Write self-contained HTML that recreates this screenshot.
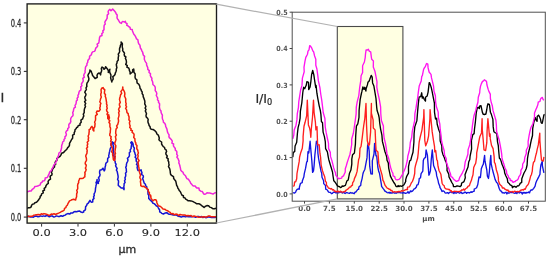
<!DOCTYPE html>
<html><head><meta charset="utf-8"><title>plot</title><style>
html,body{margin:0;padding:0;background:#fff;width:550px;height:257px;overflow:hidden}
svg{display:block}
text{font-family:"DejaVu Sans","Liberation Sans",sans-serif;fill:#333}
.rt{font-size:7.1px;font-weight:bold;fill:#555}
.ru{font-size:7px;font-weight:bold;fill:#4a4a4a}
.ri{font-size:12.6px;fill:#2a2a2a;stroke:#2a2a2a;stroke-width:0.22px}
.ly{font-size:10.4px;fill:#2e2e2e;stroke:#2e2e2e;stroke-width:0.3px}
.lx{font-size:8.4px;fill:#262626;stroke:#262626;stroke-width:0.1px}
.lu{font-size:11px;fill:#2a2a2a;stroke:#2a2a2a;stroke-width:0.3px}
.li{font-size:11.4px;fill:#2a2a2a;stroke:#2a2a2a;stroke-width:0.45px}
</style></head><body>
<svg width="550" height="257" viewBox="0 0 550 257">
<defs><clipPath id="cl"><rect x="27.1" y="3.9" width="189.4" height="219.2"/></clipPath><clipPath id="cr"><rect x="292.2" y="12.2" width="253.1" height="189.0"/></clipPath></defs>
<rect x="292.2" y="12.2" width="253.1" height="189.0" fill="#fff" stroke="none"/>
<rect x="337.3" y="26.5" width="65.6" height="172.4" fill="#ffffe2" stroke="#4a4a4a" stroke-width="1.1"/>
<g clip-path="url(#cr)" fill="none" stroke-width="1.35" stroke-linejoin="round">
<path d="M292.8 192.7 L293.7 192.8 L294.7 193.0 L295.7 192.1 L296.1 190.8 L297.1 189.4 L298.3 189.0 L299.3 189.2 L299.4 187.2 L300.5 183.3 L302.2 182.7 L302.3 181.1 L303.8 177.1 L304.3 173.6 L305.6 168.2 L306.7 161.8 L307.3 161.6 L308.0 151.6 L308.8 153.0 L310.1 141.2 L310.6 147.2 L311.8 160.4 L312.6 172.4 L313.5 170.9 L314.1 165.6 L314.9 154.8 L316.4 141.2 L317.6 144.0 L317.9 153.1 L318.5 158.0 L319.4 162.9 L321.0 171.2 L321.7 173.1 L322.0 177.3 L323.6 180.7 L323.7 183.6 L325.5 185.5 L325.7 189.1 L327.4 190.0 L327.8 190.9 L328.6 192.2 L329.7 192.3 L330.5 192.4 L331.4 193.7 L332.6 193.3 L333.2 192.2 L334.2 192.4 L335.3 192.1 L336.0 193.1 L336.9 192.3 L337.8 192.8 L338.8 192.9 L339.5 191.9 L340.5 192.2 L341.4 191.8 L342.3 193.1 L343.3 192.2 L344.3 192.9 L345.1 193.5 L346.0 192.9 L346.8 192.5 L347.7 192.9 L348.6 193.2 L349.6 193.4 L350.3 192.5 L351.4 193.0 L352.2 192.8 L352.9 193.1 L354.2 193.7 L355.1 192.2 L355.8 192.0 L356.7 190.8 L357.8 189.4 L358.6 189.4 L358.9 187.0 L360.8 185.2 L360.9 183.1 L362.1 178.6 L362.9 174.0 L363.4 172.3 L364.9 169.2 L365.8 164.1 L367.0 157.9 L367.6 145.8 L368.3 143.4 L369.2 151.4 L369.7 166.2 L370.9 173.9 L372.4 174.0 L372.3 160.8 L374.0 154.0 L374.6 143.4 L376.0 155.8 L376.7 156.0 L377.8 167.0 L378.8 171.8 L379.5 173.3 L380.4 178.7 L381.3 183.9 L381.6 186.4 L383.2 188.7 L384.0 189.7 L384.9 191.2 L385.5 191.2 L386.6 192.2 L387.3 192.6 L388.2 192.9 L389.1 192.3 L390.0 193.3 L390.8 192.5 L391.9 193.3 L392.7 192.6 L393.6 192.6 L394.5 193.1 L395.4 192.8 L396.3 193.2 L397.2 192.7 L398.1 192.4 L399.0 192.6 L399.9 192.5 L400.7 192.8 L401.7 192.9 L402.6 193.0 L403.6 192.7 L404.4 192.9 L405.4 193.4 L406.2 193.1 L407.1 192.9 L408.0 191.7 L408.9 193.2 L409.7 192.4 L410.5 190.9 L411.5 191.6 L412.7 190.9 L413.1 190.4 L414.0 189.0 L414.9 188.7 L416.4 187.0 L416.8 185.2 L418.1 184.6 L419.0 181.2 L419.2 178.5 L420.5 177.9 L421.1 173.7 L422.8 171.2 L423.3 160.6 L424.1 158.5 L425.5 157.4 L426.1 149.9 L427.4 155.1 L428.3 167.4 L428.9 175.2 L429.4 174.2 L430.4 170.9 L431.3 159.0 L432.3 149.9 L433.0 158.6 L433.6 165.5 L434.9 168.7 L436.2 171.9 L436.7 175.9 L438.1 180.6 L438.5 183.0 L439.9 186.6 L439.9 187.4 L441.5 190.1 L442.0 191.5 L443.2 190.9 L444.3 191.5 L445.0 192.8 L445.9 193.1 L446.8 192.8 L447.5 192.6 L448.5 193.5 L449.2 192.8 L450.2 192.1 L451.2 191.8 L452.1 192.9 L453.2 192.0 L453.8 193.6 L454.8 192.3 L455.7 193.1 L456.6 193.1 L457.4 192.3 L458.4 192.2 L459.2 193.2 L460.2 192.8 L461.2 192.2 L462.0 193.5 L463.0 193.2 L463.8 193.0 L464.5 192.2 L465.6 192.2 L466.5 193.4 L467.3 192.6 L468.3 192.5 L469.3 193.0 L470.2 192.4 L471.1 191.7 L471.8 192.4 L472.8 191.7 L474.2 191.2 L474.2 189.2 L475.5 188.5 L476.6 187.8 L477.8 184.5 L478.2 181.9 L479.0 177.0 L480.4 177.5 L480.9 173.0 L481.3 168.8 L482.6 165.4 L483.3 164.4 L484.6 155.4 L485.0 161.2 L486.8 170.0 L487.4 176.2 L488.5 178.5 L489.4 171.4 L490.2 161.1 L490.8 155.4 L491.2 163.8 L492.2 168.4 L493.1 172.0 L494.3 176.4 L495.1 179.4 L496.6 182.5 L497.6 183.3 L498.6 186.5 L499.4 189.0 L499.8 189.7 L500.3 190.7 L501.5 191.4 L502.3 192.8 L503.4 192.7 L504.2 193.2 L505.1 192.5 L506.1 192.3 L506.9 194.0 L507.8 192.5 L508.8 193.2 L509.7 192.9 L510.6 192.1 L511.6 192.6 L512.4 192.6 L513.3 192.7 L514.1 193.1 L515.1 193.3 L516.0 192.3 L516.9 193.6 L517.5 192.2 L518.6 192.5 L519.6 193.0 L520.3 192.2 L521.5 192.4 L522.2 194.1 L523.1 192.4 L524.1 193.1 L525.0 192.4 L525.9 193.3 L526.6 192.5 L527.8 192.7 L528.6 192.0 L529.6 192.9 L530.0 191.4 L531.1 189.8 L532.1 190.1 L532.7 189.5 L533.7 188.4 L535.0 186.4 L535.9 182.7 L536.9 180.3 L537.3 179.6 L538.6 177.1 L540.0 174.2 L540.1 171.5 L540.9 164.9 L542.3 161.2 L542.4 165.9 L543.9 172.9" stroke="#1414e0"/>
<path d="M292.8 186.2 L294.2 185.8 L294.6 181.9 L295.7 181.8 L296.7 178.8 L297.0 173.5 L297.7 169.7 L299.2 161.4 L299.6 157.0 L300.8 152.4 L302.3 148.3 L303.1 140.9 L303.1 136.6 L304.0 126.3 L305.1 122.3 L306.7 115.6 L307.3 100.1 L308.4 124.9 L309.5 127.7 L310.3 131.7 L310.8 137.3 L311.3 129.3 L312.5 117.3 L313.5 100.1 L314.1 112.5 L315.4 122.2 L315.9 129.9 L317.0 126.7 L317.6 144.9 L319.2 144.8 L320.0 153.7 L320.6 157.4 L321.1 164.8 L322.4 170.4 L323.4 173.4 L324.6 176.4 L325.5 181.5 L326.4 182.2 L326.5 185.4 L327.5 186.2 L328.4 188.0 L329.7 188.3 L330.5 189.0 L331.6 188.5 L332.4 190.0 L333.5 189.7 L334.3 190.9 L335.2 191.6 L335.9 191.2 L337.0 192.0 L337.8 190.9 L338.7 191.8 L339.6 191.8 L340.6 191.2 L341.4 192.0 L342.5 192.2 L343.3 192.0 L344.1 191.5 L345.2 191.6 L346.0 190.2 L346.7 189.8 L347.7 189.1 L348.7 188.3 L349.4 187.2 L350.6 187.1 L351.3 185.9 L352.5 185.1 L352.6 182.8 L353.9 180.9 L354.4 178.6 L356.0 175.1 L357.1 171.4 L357.7 166.9 L358.6 159.8 L359.5 157.1 L360.0 148.4 L361.1 146.2 L362.2 137.9 L363.2 129.5 L363.8 125.0 L364.8 118.6 L366.0 103.4 L366.5 124.3 L367.3 140.7 L368.6 145.5 L369.5 144.4 L370.6 131.9 L371.4 103.4 L371.4 113.2 L373.1 119.8 L373.3 128.0 L375.1 129.9 L375.8 145.9 L376.1 150.3 L377.9 152.0 L378.2 156.1 L378.8 163.4 L379.6 166.2 L380.8 170.8 L382.1 175.1 L383.0 180.6 L383.6 181.2 L385.1 185.4 L385.8 186.2 L386.1 186.8 L387.2 188.1 L388.4 188.6 L389.1 189.3 L390.1 189.2 L390.7 190.5 L392.0 190.4 L392.6 192.0 L393.6 191.8 L394.6 191.7 L395.4 191.8 L396.3 192.1 L397.2 191.6 L398.1 192.0 L399.0 191.2 L399.9 191.9 L400.8 191.5 L401.5 190.6 L402.7 191.1 L403.7 190.7 L404.4 190.3 L405.3 189.9 L406.3 189.5 L407.5 189.6 L407.5 187.1 L408.9 186.9 L409.4 186.8 L410.5 184.8 L411.3 182.9 L412.5 181.3 L413.6 178.3 L414.7 173.5 L414.9 168.3 L415.5 165.5 L417.6 158.3 L418.2 153.5 L418.9 144.8 L419.2 141.8 L420.1 137.5 L422.0 129.8 L422.4 126.5 L423.7 117.1 L423.9 109.6 L424.8 140.5 L425.7 145.8 L426.6 143.6 L427.5 141.0 L428.6 135.8 L429.9 118.7 L430.1 109.6 L431.1 120.6 L432.2 131.9 L433.2 138.6 L434.5 146.4 L434.8 151.9 L435.7 150.5 L436.8 159.8 L437.4 160.6 L438.0 166.2 L439.0 170.5 L440.9 174.3 L441.5 178.6 L442.1 183.2 L442.9 184.8 L444.2 185.7 L444.5 187.5 L445.8 188.9 L446.6 189.0 L447.9 189.1 L448.6 189.6 L449.6 189.4 L450.2 190.8 L451.2 190.6 L451.8 192.1 L453.0 191.7 L453.9 191.5 L454.8 191.1 L455.7 191.6 L456.7 191.3 L457.4 191.6 L458.4 191.5 L459.3 191.9 L460.2 191.0 L461.2 190.6 L461.9 189.8 L462.9 190.0 L463.8 189.0 L464.6 190.2 L465.7 188.7 L466.3 188.3 L467.3 187.6 L467.9 186.4 L469.4 185.7 L469.9 184.1 L471.5 180.1 L471.9 178.3 L473.0 174.8 L473.7 167.6 L475.0 164.6 L475.7 163.3 L476.6 157.2 L476.7 152.9 L477.8 147.4 L479.4 138.7 L479.9 136.5 L481.5 132.9 L482.1 118.7 L482.3 129.7 L483.3 141.0 L484.0 149.9 L485.6 150.6 L486.8 142.7 L487.1 130.6 L487.9 118.7 L489.5 136.3 L490.1 134.0 L490.3 138.9 L491.5 145.4 L493.1 148.6 L494.1 156.3 L494.4 162.3 L495.2 163.7 L496.4 170.0 L497.7 174.1 L498.3 177.4 L498.5 180.9 L499.6 184.0 L500.4 185.0 L501.8 186.3 L502.4 188.0 L503.5 187.8 L504.4 188.3 L504.8 189.1 L506.3 189.9 L507.0 190.3 L508.0 189.9 L508.6 191.7 L509.7 191.3 L510.6 191.8 L511.6 191.7 L512.4 191.4 L513.4 192.4 L514.3 191.2 L515.2 191.3 L516.1 191.6 L516.9 191.9 L517.8 191.4 L518.8 191.9 L519.7 191.2 L520.6 190.1 L521.4 190.2 L522.3 189.7 L523.4 190.1 L524.3 189.0 L525.1 189.4 L526.1 187.2 L526.6 186.0 L527.3 185.6 L528.5 183.9 L529.6 180.3 L530.7 175.9 L531.3 175.0 L532.3 171.1 L532.6 166.9 L533.5 162.2 L534.5 161.4 L535.6 156.1 L536.4 153.3 L537.2 149.4 L538.3 144.9 L539.8 133.2 L539.9 140.8 L540.7 151.6 L541.5 160.2 L543.2 161.1 L543.9 156.8" stroke="#ff1f1f"/>
<path d="M292.8 157.1 L293.3 152.3 L294.7 151.6 L295.1 145.9 L296.7 142.3 L297.4 133.5 L298.1 127.6 L299.2 123.4 L300.1 118.2 L300.4 111.1 L301.8 103.0 L302.8 92.5 L303.6 87.3 L304.7 88.7 L305.6 86.5 L306.2 85.4 L306.9 81.6 L308.5 82.3 L308.7 89.6 L310.1 86.9 L310.9 81.3 L311.6 74.7 L312.7 70.5 L313.8 74.7 L314.4 78.8 L315.7 87.5 L316.1 85.5 L316.9 93.2 L317.8 98.3 L319.2 105.8 L320.3 110.4 L320.9 114.4 L321.4 121.5 L322.5 122.8 L323.1 132.1 L324.4 136.6 L325.3 141.7 L325.6 148.6 L327.4 151.8 L328.2 156.6 L328.7 159.2 L329.5 162.0 L330.7 166.0 L331.4 168.2 L332.5 172.0 L333.1 176.5 L333.8 180.8 L334.8 181.8 L335.9 183.3 L336.9 185.0 L337.5 185.8 L338.7 186.5 L339.6 186.7 L340.4 187.5 L341.5 187.2 L342.2 185.9 L343.2 186.4 L344.2 185.9 L345.4 185.4 L346.0 183.6 L346.8 181.1 L348.2 179.9 L348.6 178.0 L349.4 173.6 L350.9 170.1 L351.8 164.1 L351.8 159.2 L352.6 154.7 L354.4 153.0 L355.4 144.2 L355.7 135.9 L356.4 126.2 L357.8 123.8 L359.0 117.4 L359.1 110.4 L360.2 99.3 L361.4 93.5 L361.8 91.9 L362.9 86.9 L364.0 89.4 L364.8 87.3 L365.9 91.0 L366.1 88.7 L367.4 84.9 L368.0 82.1 L368.9 81.5 L369.8 79.3 L371.2 75.4 L372.2 77.2 L372.6 82.9 L373.9 86.1 L375.0 92.7 L376.0 98.6 L376.7 107.3 L377.1 110.5 L378.6 115.0 L379.2 117.9 L379.7 123.0 L380.6 129.1 L381.9 135.2 L382.4 141.4 L383.5 145.7 L384.9 151.5 L386.0 154.6 L386.8 157.4 L387.0 160.3 L388.3 162.9 L388.7 168.1 L389.5 171.8 L390.4 176.1 L391.8 178.9 L393.2 181.4 L393.8 182.5 L394.8 183.7 L395.3 184.8 L396.1 186.6 L397.5 186.6 L398.1 185.5 L398.9 186.6 L399.9 185.9 L400.8 186.0 L401.7 186.4 L402.5 185.8 L403.8 185.0 L404.6 183.6 L405.7 181.5 L405.7 179.6 L406.7 176.3 L408.5 173.1 L408.5 166.6 L409.7 160.9 L410.8 160.2 L411.6 156.9 L413.0 152.3 L413.9 142.2 L414.1 133.7 L414.8 126.9 L416.6 121.5 L416.9 120.4 L417.6 111.6 L418.4 102.9 L419.1 97.0 L420.7 96.6 L421.7 92.8 L422.3 98.1 L423.0 96.7 L424.2 99.3 L425.5 101.1 L425.5 97.3 L427.2 95.9 L428.1 92.1 L429.2 82.6 L429.8 83.1 L430.5 85.1 L431.3 87.7 L432.2 91.9 L433.2 97.2 L434.4 103.0 L434.5 112.1 L435.5 119.0 L436.6 118.2 L437.2 124.3 L438.5 128.9 L440.0 133.0 L440.2 141.1 L441.8 145.7 L441.9 150.9 L442.9 154.4 L444.3 157.6 L445.3 160.6 L446.3 162.4 L447.1 167.2 L447.0 170.4 L448.8 174.2 L449.0 177.0 L450.7 180.1 L451.4 181.6 L452.1 183.0 L453.1 184.5 L453.5 186.5 L454.9 186.6 L455.7 186.6 L456.6 186.0 L457.4 186.0 L458.4 186.1 L459.4 186.3 L460.2 186.6 L461.3 185.5 L461.6 183.0 L462.5 182.6 L464.0 181.6 L465.3 177.7 L465.0 174.7 L466.4 170.9 L468.0 167.1 L468.7 162.0 L469.8 159.5 L470.1 156.1 L471.6 148.9 L471.4 140.6 L472.8 134.6 L474.1 133.6 L474.5 129.0 L475.4 121.8 L476.3 112.5 L477.2 108.1 L478.2 107.3 L479.3 108.5 L479.8 106.0 L481.0 105.7 L481.4 107.6 L482.4 112.4 L483.3 114.4 L484.5 114.5 L485.9 114.0 L486.7 110.0 L487.4 105.7 L488.0 103.8 L489.3 104.4 L489.5 105.2 L490.4 112.2 L491.2 113.9 L492.9 119.4 L493.2 126.9 L493.9 131.7 L495.6 133.0 L496.8 133.5 L497.5 141.8 L498.3 145.6 L498.7 151.0 L499.4 158.3 L500.4 159.1 L501.4 162.1 L502.0 164.2 L502.9 166.3 L504.4 170.4 L504.7 173.1 L505.8 175.8 L507.3 178.7 L507.8 182.3 L509.1 183.4 L509.8 184.4 L510.3 184.9 L512.0 185.8 L512.4 187.7 L513.3 186.7 L514.3 186.3 L515.3 186.7 L516.0 187.3 L516.8 186.5 L517.6 185.8 L518.6 185.9 L519.8 184.4 L520.1 183.3 L521.7 182.4 L521.8 178.7 L523.2 175.0 L524.0 173.0 L525.4 170.5 L526.3 168.5 L527.1 165.0 L527.5 158.4 L528.4 153.0 L529.9 147.1 L530.4 144.3 L531.5 139.2 L532.5 135.5 L532.7 128.7 L533.9 122.0 L535.3 117.7 L536.0 119.9 L537.1 121.3 L537.2 116.5 L538.5 115.1 L539.4 116.6 L540.5 119.2 L541.1 122.4 L542.1 123.4 L542.5 122.2 L543.9 114.8 L544.7 114.5" stroke="#000"/>
<path d="M292.8 138.8 L293.8 135.0 L294.2 129.9 L296.0 125.2 L296.9 119.9 L297.3 113.7 L298.4 107.6 L298.8 101.6 L299.7 95.8 L300.6 90.0 L302.0 85.4 L302.4 78.1 L304.2 71.8 L304.0 67.2 L305.0 61.2 L305.8 57.4 L307.5 54.2 L308.0 51.2 L309.0 49.8 L309.7 45.6 L310.5 46.1 L311.8 48.2 L312.9 51.0 L313.6 51.7 L314.6 56.0 L315.8 59.2 L315.8 65.3 L316.9 69.0 L317.8 75.6 L318.4 80.9 L319.9 87.7 L320.8 94.5 L321.7 99.8 L322.6 107.1 L323.2 112.5 L324.9 118.5 L325.2 126.6 L326.1 132.2 L327.2 137.5 L328.5 143.4 L328.6 148.6 L330.3 152.3 L330.5 156.4 L331.9 160.6 L332.9 164.7 L333.7 167.9 L334.7 171.0 L335.5 172.8 L335.8 175.2 L336.7 176.4 L337.9 177.9 L338.6 178.7 L339.6 178.5 L340.5 178.4 L341.7 178.1 L342.1 176.6 L343.6 175.8 L344.3 174.0 L345.2 172.2 L345.3 168.8 L346.3 165.7 L347.2 162.5 L348.4 158.9 L350.0 154.2 L350.8 149.8 L351.7 144.5 L351.7 139.0 L353.3 133.5 L354.3 127.0 L355.3 120.1 L356.1 114.2 L356.3 107.2 L357.2 101.9 L358.8 95.6 L359.7 87.3 L360.8 80.4 L361.1 75.8 L362.6 72.4 L362.6 65.8 L364.4 62.0 L365.2 57.6 L365.5 54.0 L366.1 49.9 L367.5 50.0 L368.3 49.3 L369.4 51.4 L370.7 51.8 L371.4 57.5 L371.7 59.2 L373.4 60.9 L373.3 66.9 L375.0 71.5 L375.9 76.2 L377.0 81.9 L376.8 87.1 L377.8 92.7 L379.4 99.8 L380.6 106.8 L380.8 113.8 L381.4 120.5 L383.4 126.0 L383.5 132.1 L384.2 138.5 L385.5 143.7 L386.3 148.4 L386.9 153.4 L388.5 157.9 L389.4 161.5 L389.8 164.1 L390.8 168.0 L391.8 171.2 L392.9 173.3 L393.1 175.9 L394.7 176.7 L395.2 178.5 L396.0 179.7 L397.2 179.9 L398.0 179.6 L398.9 179.3 L399.6 178.9 L400.4 177.9 L401.3 176.2 L402.4 174.7 L403.4 172.3 L404.3 170.4 L405.5 167.5 L406.4 164.2 L407.3 160.5 L407.8 156.3 L409.1 151.5 L409.9 147.2 L410.3 142.5 L411.7 137.3 L412.3 131.3 L413.6 125.3 L414.6 121.0 L414.9 113.6 L416.0 108.2 L416.9 101.9 L417.7 97.5 L418.3 92.3 L419.2 86.1 L421.2 81.0 L421.8 76.2 L422.3 75.8 L423.5 69.8 L424.0 68.5 L425.3 66.7 L426.4 63.8 L426.8 63.5 L427.8 64.1 L428.1 67.9 L429.1 72.0 L431.0 74.4 L431.5 77.9 L432.4 81.3 L433.5 85.8 L434.0 91.2 L435.4 95.8 L435.6 101.9 L436.4 106.8 L438.2 112.1 L438.4 117.7 L439.8 123.8 L440.2 129.2 L441.1 135.9 L441.6 141.2 L442.7 145.7 L444.2 150.8 L444.6 155.2 L446.2 158.6 L446.5 162.5 L447.7 166.3 L448.8 168.8 L449.7 171.7 L450.6 174.3 L450.9 176.7 L452.5 177.4 L453.2 178.8 L454.1 179.6 L455.0 180.2 L455.6 180.9 L456.6 181.4 L457.6 180.9 L458.7 180.5 L459.3 178.8 L459.7 177.3 L460.8 175.7 L462.0 173.7 L463.1 171.3 L464.3 169.1 L464.7 165.7 L465.3 161.7 L466.6 158.2 L467.9 154.2 L468.1 149.6 L469.7 144.9 L470.6 139.8 L471.1 134.8 L471.9 130.2 L472.4 125.8 L473.2 120.1 L474.1 115.2 L475.6 110.9 L476.6 106.7 L477.9 102.3 L478.3 97.2 L479.7 92.7 L479.9 89.8 L480.5 86.2 L481.3 83.9 L482.5 81.4 L483.6 80.8 L484.3 79.8 L485.6 80.5 L486.6 81.7 L486.9 84.7 L488.2 89.4 L488.9 91.4 L490.3 94.1 L490.4 98.3 L491.2 102.3 L492.3 105.7 L493.0 110.4 L494.6 115.9 L495.9 120.3 L496.4 125.4 L496.6 131.5 L498.0 136.1 L499.3 140.5 L500.2 145.2 L501.1 150.1 L501.7 154.2 L502.0 157.9 L503.0 161.8 L504.0 164.6 L504.9 167.8 L506.5 171.0 L506.7 173.7 L508.2 175.9 L508.8 177.9 L510.1 178.9 L510.3 180.6 L511.8 180.4 L512.3 181.6 L513.3 182.4 L514.3 181.7 L515.2 181.5 L515.9 180.6 L517.2 180.1 L518.3 178.8 L518.8 176.8 L520.1 175.1 L520.9 173.1 L520.9 170.4 L522.5 167.6 L522.7 164.0 L524.3 161.4 L524.8 157.6 L526.3 153.6 L526.3 150.3 L528.2 146.2 L528.1 141.7 L529.0 136.1 L529.8 132.0 L530.9 127.5 L532.8 124.0 L533.5 121.2 L534.5 116.9 L534.5 112.9 L536.0 109.2 L537.0 107.1 L537.9 104.5 L538.3 101.8 L539.9 101.7 L540.5 99.1 L541.3 98.0 L542.3 97.4 L543.1 99.4 L543.9 100.2" stroke="#ff14f0"/>
</g>
<rect x="292.2" y="12.2" width="253.1" height="189.0" fill="none" stroke="#505050" stroke-width="1"/>
<line x1="289.6" y1="193.9" x2="292.2" y2="193.9" stroke="#444" stroke-width="1"/>
<text transform="translate(287.6 196.5) scale(0.9 1)" text-anchor="end" class="rt">0.0</text>
<line x1="289.6" y1="157.6" x2="292.2" y2="157.6" stroke="#444" stroke-width="1"/>
<text transform="translate(287.6 160.2) scale(0.9 1)" text-anchor="end" class="rt">0.1</text>
<line x1="289.6" y1="121.2" x2="292.2" y2="121.2" stroke="#444" stroke-width="1"/>
<text transform="translate(287.6 123.8) scale(0.9 1)" text-anchor="end" class="rt">0.2</text>
<line x1="289.6" y1="84.9" x2="292.2" y2="84.9" stroke="#444" stroke-width="1"/>
<text transform="translate(287.6 87.5) scale(0.9 1)" text-anchor="end" class="rt">0.3</text>
<line x1="289.6" y1="48.5" x2="292.2" y2="48.5" stroke="#444" stroke-width="1"/>
<text transform="translate(287.6 51.1) scale(0.9 1)" text-anchor="end" class="rt">0.4</text>
<line x1="289.6" y1="12.2" x2="292.2" y2="12.2" stroke="#444" stroke-width="1"/>
<text transform="translate(287.6 14.8) scale(0.9 1)" text-anchor="end" class="rt">0.5</text>
<line x1="304.5" y1="201.2" x2="304.5" y2="203.6" stroke="#444" stroke-width="1"/>
<text x="304.5" y="211.4" text-anchor="middle" class="rt">0.0</text>
<line x1="329.4" y1="201.2" x2="329.4" y2="203.6" stroke="#444" stroke-width="1"/>
<text x="329.4" y="211.4" text-anchor="middle" class="rt">7.5</text>
<line x1="354.3" y1="201.2" x2="354.3" y2="203.6" stroke="#444" stroke-width="1"/>
<text x="354.3" y="211.4" text-anchor="middle" class="rt">15.0</text>
<line x1="379.2" y1="201.2" x2="379.2" y2="203.6" stroke="#444" stroke-width="1"/>
<text x="379.2" y="211.4" text-anchor="middle" class="rt">22.5</text>
<line x1="404.0" y1="201.2" x2="404.0" y2="203.6" stroke="#444" stroke-width="1"/>
<text x="404.0" y="211.4" text-anchor="middle" class="rt">30.0</text>
<line x1="428.9" y1="201.2" x2="428.9" y2="203.6" stroke="#444" stroke-width="1"/>
<text x="428.9" y="211.4" text-anchor="middle" class="rt">37.5</text>
<line x1="453.8" y1="201.2" x2="453.8" y2="203.6" stroke="#444" stroke-width="1"/>
<text x="453.8" y="211.4" text-anchor="middle" class="rt">45.0</text>
<line x1="478.7" y1="201.2" x2="478.7" y2="203.6" stroke="#444" stroke-width="1"/>
<text x="478.7" y="211.4" text-anchor="middle" class="rt">52.5</text>
<line x1="503.6" y1="201.2" x2="503.6" y2="203.6" stroke="#444" stroke-width="1"/>
<text x="503.6" y="211.4" text-anchor="middle" class="rt">60.0</text>
<line x1="528.5" y1="201.2" x2="528.5" y2="203.6" stroke="#444" stroke-width="1"/>
<text x="528.5" y="211.4" text-anchor="middle" class="rt">67.5</text>
<text x="428.6" y="220.6" text-anchor="middle" class="ru">µm</text>
<text x="255.4" y="103.2" class="ri">I/I<tspan font-size="8.2" dy="1.6">0</tspan></text>
<rect x="27.1" y="3.9" width="189.4" height="219.2" fill="#ffffe2" stroke="none"/>
<g clip-path="url(#cl)" fill="none" stroke-width="1.5" stroke-linejoin="round">
<path d="M27.0 216.8 L28.6 216.2 L30.2 217.0 L31.8 216.8 L33.4 217.2 L35.0 216.2 L36.4 216.1 L37.9 216.7 L39.3 216.5 L40.7 215.9 L42.2 216.4 L43.6 215.9 L45.0 216.4 L46.5 215.5 L47.9 215.8 L49.3 216.8 L50.7 216.1 L52.2 216.0 L53.6 216.9 L55.0 216.7 L56.5 215.9 L58.0 216.4 L59.5 216.5 L61.0 215.7 L62.5 216.3 L63.9 215.5 L65.2 215.1 L66.4 214.1 L67.8 213.6 L69.7 214.1 L71.0 212.9 L72.7 213.1 L73.7 211.9 L75.0 211.6 L76.6 211.8 L78.0 211.3 L79.7 211.0 L81.0 212.1 L82.4 212.4 L83.6 212.1 L83.8 210.9 L85.4 209.9 L85.5 208.4 L85.6 206.8 L86.6 205.6 L87.0 204.2 L88.3 203.2 L89.0 202.0 L90.0 200.4 L91.2 202.2 L92.6 202.1 L92.8 201.1 L92.8 199.6 L94.0 198.4 L93.5 196.8 L94.3 195.5 L94.0 194.0 L94.8 192.6 L95.3 191.3 L95.4 189.8 L95.5 188.4 L95.8 186.9 L96.0 185.5 L96.5 184.1 L96.0 182.6 L96.8 181.2 L97.1 179.4 L97.1 181.4 L97.5 182.8 L98.4 183.4 L98.2 182.4 L99.1 180.9 L99.1 179.3 L98.5 177.7 L99.6 176.3 L100.1 174.7 L99.6 173.1 L99.6 171.5 L100.1 170.1 L101.7 169.8 L102.9 168.2 L103.7 169.8 L104.2 170.9 L104.8 169.9 L105.0 168.5 L105.1 167.0 L105.6 165.6 L105.6 164.1 L106.3 162.7 L107.6 161.6 L107.6 160.0 L107.7 158.4 L109.0 157.3 L108.7 155.6 L109.1 154.1 L109.3 152.6 L109.7 151.2 L110.0 149.6 L110.4 148.1 L111.5 146.7 L111.0 144.9 L111.3 143.7 L112.1 142.6 L112.1 141.8 L113.5 142.9 L112.9 144.6 L113.6 146.2 L113.5 147.8 L113.5 149.4 L113.1 151.0 L113.5 152.6 L114.0 154.1 L113.6 155.8 L114.6 157.1 L114.8 158.5 L114.3 160.1 L115.2 161.4 L115.2 162.9 L116.1 164.2 L115.6 165.8 L116.3 167.2 L117.1 168.5 L116.4 170.1 L117.2 171.5 L117.5 173.1 L117.8 174.6 L118.1 176.2 L118.1 177.7 L117.6 179.3 L118.5 180.8 L118.5 182.4 L118.3 183.9 L118.3 185.5 L120.1 186.9 L121.2 188.1 L122.9 188.1 L124.0 189.6 L124.1 188.3 L123.8 186.8 L124.1 185.3 L124.1 183.8 L125.1 182.4 L124.5 180.8 L125.3 179.4 L124.9 177.8 L125.6 176.4 L125.8 174.9 L125.5 173.3 L126.5 171.9 L126.3 170.4 L126.3 168.9 L125.7 167.3 L126.4 165.9 L126.4 164.4 L126.8 162.9 L127.6 161.5 L128.0 160.1 L127.4 158.3 L128.6 157.2 L129.4 155.9 L129.4 154.3 L129.3 152.7 L130.5 151.4 L130.1 149.9 L131.1 148.6 L131.2 147.1 L131.4 145.7 L131.7 144.3 L130.8 142.6 L131.7 141.7 L132.3 142.4 L133.0 143.6 L133.2 145.0 L133.2 146.6 L134.4 147.9 L134.1 149.6 L134.0 151.2 L134.8 152.6 L135.1 154.2 L135.8 155.6 L135.1 157.3 L136.4 158.5 L136.1 160.0 L136.4 161.5 L137.6 162.7 L136.5 164.4 L137.8 165.6 L137.1 167.3 L137.4 168.7 L137.9 170.4 L139.7 170.5 L141.1 169.9 L141.4 171.4 L142.0 172.8 L141.5 174.4 L143.1 175.5 L143.4 176.9 L142.6 178.6 L143.2 180.0 L143.7 181.4 L144.1 183.0 L145.4 184.2 L145.7 185.8 L146.9 187.0 L146.6 188.5 L148.0 189.7 L147.9 191.2 L148.0 192.7 L148.0 194.1 L148.8 195.4 L148.8 196.9 L148.7 198.4 L149.8 199.6 L151.2 200.9 L152.4 202.1 L152.8 203.1 L154.1 203.6 L155.3 204.6 L156.2 205.8 L157.7 206.5 L158.3 207.8 L159.0 209.0 L159.7 210.2 L159.7 211.9 L161.1 212.6 L161.7 213.4 L163.4 214.0 L165.0 213.1 L166.8 212.7 L168.3 213.9 L169.9 214.3 L171.6 214.5 L173.3 215.0 L175.0 214.9 L176.7 215.1 L178.1 216.2 L179.8 216.5 L181.4 217.1 L182.8 216.3 L184.3 216.5 L185.7 216.9 L187.1 216.4 L188.6 216.7 L190.0 216.5 L191.4 216.9 L192.9 216.4 L194.3 216.7 L195.7 217.2 L197.2 216.6 L198.6 216.5 L200.0 217.2 L201.5 216.5 L202.9 217.6 L204.4 216.8 L205.8 217.7 L207.3 217.2 L208.7 216.7 L210.2 217.2 L211.6 217.5 L213.1 217.2 L214.5 217.5 L216.0 217.3" stroke="#1414d4"/>
<path d="M27.0 216.8 L28.3 216.2 L29.7 216.5 L31.0 216.3 L32.4 216.3 L33.6 215.2 L34.9 215.1 L36.6 214.7 L38.3 214.5 L40.1 214.8 L41.3 213.8 L42.7 214.2 L44.0 213.6 L45.5 214.0 L47.0 214.4 L48.4 215.2 L50.0 215.2 L51.2 214.1 L52.6 214.2 L54.0 213.8 L55.6 214.5 L57.1 213.7 L58.6 213.1 L60.2 212.4 L61.5 211.5 L63.0 211.0 L64.3 210.0 L64.5 208.3 L65.9 207.6 L66.2 206.2 L67.3 205.2 L67.9 203.7 L68.7 202.3 L69.5 200.9 L70.8 200.4 L71.9 199.7 L73.6 199.3 L75.6 200.0 L76.0 198.3 L76.6 196.8 L76.6 195.1 L76.7 193.6 L77.3 192.1 L76.7 190.3 L77.7 188.8 L77.7 187.1 L77.6 185.4 L77.9 184.0 L78.7 182.7 L78.6 181.2 L79.2 179.8 L79.7 178.5 L80.8 178.6 L81.9 178.5 L83.1 178.3 L83.9 177.4 L84.9 176.8 L84.8 175.5 L85.1 174.0 L84.8 172.5 L85.7 171.1 L86.2 169.6 L85.4 168.1 L86.0 166.7 L86.3 165.2 L85.2 163.7 L85.4 162.2 L86.4 160.7 L86.5 159.3 L86.3 157.8 L85.7 156.3 L86.1 154.8 L86.9 153.3 L87.1 151.7 L87.2 150.2 L86.5 148.5 L87.6 147.0 L87.2 145.4 L87.8 143.9 L87.2 142.2 L88.6 140.8 L88.2 139.2 L88.6 137.7 L88.1 136.0 L88.9 134.5 L89.0 132.9 L89.2 131.4 L89.1 129.7 L90.4 129.0 L90.8 127.6 L91.9 126.4 L92.9 128.1 L93.0 129.9 L93.9 130.9 L93.7 129.8 L93.8 128.2 L94.8 126.8 L94.9 125.2 L95.1 123.6 L94.6 122.0 L95.4 120.5 L95.6 118.9 L95.5 117.3 L95.6 115.7 L97.3 114.4 L96.3 112.7 L97.0 111.0 L98.9 111.2 L100.3 109.6 L99.7 108.0 L100.3 106.5 L100.2 104.9 L100.9 103.4 L99.8 101.8 L100.3 100.2 L100.6 98.7 L101.3 97.1 L100.8 95.6 L100.8 94.0 L101.3 92.5 L101.1 90.9 L101.1 89.4 L102.0 88.0 L103.1 87.6 L103.5 88.6 L104.8 89.9 L104.5 91.6 L104.4 93.2 L105.5 94.7 L105.2 96.3 L105.8 97.8 L106.1 99.4 L106.3 101.0 L106.6 102.4 L106.5 103.9 L107.1 105.3 L106.7 106.8 L107.3 108.2 L106.5 109.8 L106.9 111.2 L107.9 112.6 L107.0 114.2 L107.9 115.5 L107.7 117.0 L107.8 118.6 L108.1 116.7 L108.7 114.7 L109.0 116.5 L109.5 117.9 L108.6 119.4 L109.8 120.8 L108.9 122.3 L109.9 123.7 L109.9 125.2 L109.9 126.7 L110.5 128.1 L110.5 129.5 L110.3 131.0 L110.3 132.5 L109.8 134.0 L109.8 135.5 L111.2 136.8 L110.7 138.3 L111.4 139.7 L110.6 141.2 L111.4 142.6 L110.7 144.1 L111.3 145.6 L112.0 146.9 L112.4 148.5 L112.3 150.1 L111.6 151.8 L112.8 153.2 L112.6 154.9 L113.0 156.4 L113.2 157.9 L113.4 159.7 L114.5 160.6 L114.9 159.5 L114.9 158.0 L115.3 156.4 L114.8 154.9 L115.5 153.4 L114.9 151.8 L115.1 150.3 L115.3 148.8 L115.7 147.3 L115.8 145.7 L114.8 144.1 L114.9 142.6 L115.5 141.1 L116.0 139.6 L115.7 138.1 L115.4 136.5 L116.4 135.1 L115.7 133.5 L115.7 131.9 L115.9 130.4 L116.1 128.9 L117.3 127.5 L116.6 125.9 L117.7 124.5 L118.1 123.1 L118.5 121.6 L118.5 120.1 L118.2 118.5 L118.6 117.1 L119.0 115.6 L119.0 114.2 L118.6 112.6 L119.4 111.2 L118.6 109.7 L119.0 108.3 L120.1 106.9 L119.5 105.4 L119.4 103.9 L120.3 102.5 L119.9 101.0 L119.5 99.3 L119.8 97.8 L120.3 96.2 L120.6 94.7 L121.7 93.2 L120.9 91.5 L122.0 90.1 L122.6 88.7 L122.8 86.9 L122.8 88.8 L123.6 90.1 L124.3 91.5 L124.8 92.9 L124.8 94.5 L124.5 96.1 L125.2 97.5 L125.8 99.0 L125.7 100.6 L125.7 102.2 L126.2 103.7 L125.8 105.3 L126.6 106.8 L125.6 108.4 L126.6 109.9 L126.8 111.3 L127.0 112.7 L128.2 113.7 L128.3 115.2 L129.0 116.6 L129.1 118.1 L128.9 119.7 L130.0 121.2 L129.4 122.8 L129.7 124.4 L130.2 125.9 L129.7 127.5 L131.1 128.8 L130.8 130.3 L132.4 130.8 L132.1 132.4 L133.5 133.3 L134.1 134.5 L134.0 136.0 L133.7 137.5 L134.9 138.7 L134.9 140.2 L135.1 141.6 L135.8 142.9 L135.9 144.4 L137.0 145.6 L136.8 147.2 L136.8 148.7 L137.7 150.0 L138.0 151.5 L138.4 153.0 L137.7 154.6 L138.2 156.0 L137.7 157.6 L138.0 159.1 L139.1 160.5 L138.1 162.2 L138.2 163.7 L138.5 165.2 L138.7 166.7 L139.0 168.2 L139.1 169.7 L139.3 171.2 L139.6 172.7 L140.2 174.1 L140.5 175.5 L139.8 177.0 L140.1 178.4 L141.0 179.7 L140.4 181.3 L140.6 182.7 L140.8 184.1 L140.7 185.7 L142.3 186.5 L144.0 186.3 L145.2 187.4 L146.3 187.9 L147.2 188.9 L148.3 189.7 L148.2 191.4 L149.4 192.6 L149.3 194.3 L150.7 195.4 L150.8 197.0 L151.1 198.5 L152.1 199.7 L153.1 200.8 L154.2 199.8 L155.8 199.7 L156.6 201.1 L156.9 202.7 L157.6 204.2 L158.2 205.8 L159.9 206.2 L161.1 207.0 L162.1 208.1 L163.0 209.1 L164.7 209.2 L166.0 210.1 L167.5 210.7 L168.8 211.6 L170.2 212.3 L171.2 213.9 L173.0 213.6 L174.2 214.8 L175.8 214.1 L177.2 214.2 L178.5 215.5 L180.1 214.5 L181.5 214.8 L183.1 215.0 L184.8 215.0 L186.4 215.7 L188.0 215.6 L189.6 215.7 L191.1 215.6 L192.5 216.8 L194.1 216.0 L195.6 216.4 L197.2 216.8 L198.8 217.2 L200.3 216.9 L201.9 216.9 L203.4 216.8 L205.0 216.9 L206.6 217.0 L208.2 216.1 L209.7 216.0 L211.3 216.8 L212.9 216.7 L214.4 216.8 L216.0 216.8" stroke="#f0200c"/>
<path d="M27.0 208.2 L28.5 207.8 L30.1 207.7 L31.2 206.8 L31.6 205.3 L32.5 204.3 L33.9 203.9 L34.9 202.7 L36.5 202.3 L37.5 201.2 L38.5 200.1 L39.2 198.9 L40.1 197.8 L40.2 196.3 L41.3 195.4 L41.6 193.8 L43.3 192.9 L42.8 191.0 L44.5 190.1 L44.2 188.3 L45.6 187.3 L46.0 185.7 L46.9 184.4 L48.3 183.4 L48.1 181.4 L48.9 180.1 L50.5 179.2 L50.3 177.7 L50.1 176.2 L51.8 175.2 L52.1 173.8 L51.3 172.1 L52.2 170.9 L52.5 169.3 L53.4 168.0 L54.5 166.9 L54.5 165.2 L55.7 164.1 L55.1 162.5 L55.7 161.2 L57.0 160.1 L56.8 158.5 L58.0 157.6 L59.3 156.9 L60.4 155.9 L61.1 154.7 L61.5 153.3 L63.1 152.8 L64.2 151.9 L64.9 151.0 L66.0 150.0 L67.0 148.9 L67.7 147.6 L68.9 146.5 L69.5 145.1 L69.5 143.4 L70.2 142.1 L70.9 140.8 L71.6 139.5 L72.6 138.3 L72.7 136.8 L72.6 135.2 L74.2 134.3 L74.2 132.7 L74.9 131.4 L75.0 129.8 L76.0 128.8 L76.6 127.7 L77.7 127.0 L78.3 125.4 L80.0 125.2 L80.0 123.5 L81.2 122.2 L80.9 120.1 L82.7 118.8 L83.1 117.4 L83.8 115.9 L83.3 114.2 L84.2 112.7 L84.2 111.1 L84.3 109.6 L84.7 108.1 L85.5 106.6 L84.9 105.0 L85.7 103.4 L84.6 101.8 L85.8 100.3 L85.0 98.7 L84.8 97.2 L85.7 95.6 L86.0 94.1 L84.8 92.4 L85.4 90.9 L86.4 89.6 L86.0 87.9 L86.9 86.4 L86.7 84.8 L87.0 83.2 L88.0 81.6 L88.7 80.1 L88.9 78.6 L88.4 77.0 L87.9 75.4 L88.5 74.0 L89.4 72.6 L89.9 71.4 L89.9 70.1 L91.1 71.0 L91.6 72.5 L92.2 74.0 L92.6 75.5 L93.7 76.7 L95.1 78.5 L97.3 77.3 L97.0 75.3 L97.7 73.9 L98.8 73.0 L99.7 73.2 L100.6 74.9 L100.8 72.9 L101.4 71.6 L101.7 70.2 L101.3 68.6 L102.0 67.0 L103.3 67.9 L103.9 69.3 L105.0 68.4 L105.6 66.7 L107.0 68.5 L107.8 69.5 L108.4 71.0 L108.3 72.4 L109.5 71.6 L109.5 70.2 L109.9 69.2 L109.6 70.5 L109.7 72.0 L110.2 73.4 L110.9 74.8 L110.9 76.3 L110.6 77.8 L111.0 79.2 L111.5 80.7 L111.9 81.9 L112.0 80.7 L113.0 79.6 L113.2 78.2 L112.8 76.7 L114.2 75.7 L115.0 74.5 L115.3 73.1 L115.9 71.8 L116.3 70.5 L116.3 69.0 L116.9 67.6 L116.5 66.0 L116.3 64.4 L117.0 63.0 L117.1 61.5 L118.3 60.1 L118.2 58.6 L118.3 57.1 L118.7 55.7 L118.2 54.1 L119.2 52.8 L119.7 51.5 L119.5 50.0 L119.6 48.4 L120.2 46.9 L120.4 45.4 L121.3 44.0 L121.1 41.9 L122.3 43.4 L122.4 44.7 L122.2 46.1 L122.4 47.6 L122.8 49.0 L122.6 50.6 L123.7 52.0 L124.5 53.2 L124.2 54.7 L124.6 56.0 L125.9 56.8 L125.4 58.5 L126.1 59.9 L126.4 61.4 L126.4 62.9 L125.7 64.4 L127.3 65.7 L126.9 67.2 L128.6 67.9 L129.3 69.3 L129.4 70.7 L130.1 71.9 L130.1 74.0 L131.9 72.5 L132.8 71.5 L132.6 69.9 L133.7 69.0 L133.9 70.6 L133.9 72.3 L135.1 73.7 L135.2 75.4 L135.0 77.1 L135.5 78.7 L136.9 79.9 L136.9 81.5 L137.2 83.2 L138.7 84.1 L139.5 85.6 L139.9 86.9 L140.0 88.3 L141.0 89.4 L141.3 90.8 L142.2 91.9 L142.1 93.6 L143.1 95.0 L143.2 96.6 L143.8 98.1 L144.3 99.6 L144.8 101.0 L144.9 102.4 L144.7 103.9 L145.4 105.2 L145.9 106.5 L145.1 108.1 L146.0 109.4 L145.3 111.0 L146.0 112.4 L146.5 113.8 L146.0 115.4 L146.2 116.9 L147.5 118.2 L148.2 119.5 L147.9 121.2 L148.1 122.7 L148.8 124.1 L149.1 125.5 L150.1 126.8 L150.3 128.3 L151.2 129.3 L153.0 129.5 L154.1 130.2 L155.1 130.9 L156.3 132.3 L156.9 134.0 L158.3 135.1 L158.8 136.5 L159.3 138.0 L158.9 139.8 L160.1 141.0 L161.6 142.0 L161.6 144.1 L162.5 145.5 L163.3 146.6 L164.6 147.5 L164.8 149.0 L166.1 149.9 L166.6 151.4 L165.8 153.1 L166.1 154.6 L167.3 155.9 L166.6 157.6 L168.2 158.9 L168.0 160.4 L168.7 161.9 L168.8 163.4 L169.1 165.0 L168.5 166.6 L169.4 168.1 L169.9 169.6 L170.2 171.1 L170.3 172.6 L170.6 174.4 L171.9 175.7 L173.5 176.7 L173.7 178.6 L174.8 179.9 L175.8 181.3 L176.1 182.7 L176.4 184.1 L176.7 185.5 L177.5 186.7 L177.8 188.1 L178.7 189.2 L179.2 190.5 L180.2 191.5 L180.8 192.7 L181.4 194.0 L182.0 195.2 L183.4 195.8 L183.5 197.5 L185.0 197.9 L185.7 199.2 L187.0 199.9 L188.2 200.8 L189.6 200.8 L191.0 200.9 L192.6 201.4 L194.0 202.2 L195.4 202.9 L196.8 203.8 L198.8 203.7 L200.4 204.5 L201.7 205.6 L203.1 206.6 L204.1 207.5 L205.1 206.5 L206.9 205.6 L208.6 205.8 L209.7 207.1 L211.3 207.6 L212.8 208.7 L214.5 208.8 L216.0 208.2" stroke="#111"/>
<path d="M27.0 192.0 L28.3 191.4 L29.7 191.1 L31.3 191.0 L32.0 189.6 L33.0 188.8 L34.1 188.0 L34.8 186.6 L36.7 186.3 L38.5 185.7 L40.3 184.8 L40.6 183.1 L41.9 182.3 L42.7 181.0 L44.4 180.7 L45.1 179.5 L45.2 177.9 L47.1 177.6 L47.9 176.5 L48.4 175.1 L49.1 174.0 L49.5 172.5 L50.1 171.3 L51.5 170.6 L51.8 169.2 L52.6 167.9 L53.3 166.6 L53.7 165.1 L55.0 164.0 L55.5 162.6 L56.5 161.5 L56.6 159.9 L57.3 158.6 L57.7 157.2 L58.4 155.9 L58.7 154.5 L58.9 153.0 L60.4 152.0 L60.9 150.6 L61.2 149.2 L61.6 147.8 L61.6 146.2 L61.9 144.8 L62.5 143.5 L62.6 142.0 L64.0 141.0 L64.0 139.5 L65.1 138.3 L64.9 136.8 L66.1 135.6 L66.4 134.2 L65.7 132.5 L66.4 131.2 L67.7 130.2 L67.7 128.6 L69.0 127.5 L68.8 125.8 L68.9 124.3 L70.1 123.1 L70.8 121.7 L70.6 120.0 L70.8 118.4 L71.6 117.0 L72.9 115.8 L73.1 114.3 L72.7 112.5 L73.4 111.1 L73.6 109.6 L74.0 108.2 L75.4 107.1 L75.0 105.4 L75.9 104.1 L76.2 102.7 L76.3 101.1 L77.4 99.9 L77.1 98.3 L78.2 97.1 L77.9 95.4 L78.7 94.1 L78.9 92.6 L79.4 91.2 L80.8 90.1 L81.0 88.6 L80.7 86.9 L81.9 85.7 L81.4 84.1 L82.1 82.8 L83.1 81.5 L83.2 80.1 L82.8 78.4 L84.4 77.2 L83.7 75.4 L84.2 73.9 L85.2 72.6 L85.0 70.9 L85.3 69.4 L85.4 67.8 L85.8 66.4 L86.9 65.2 L86.9 63.7 L87.7 62.4 L87.8 60.9 L88.4 59.6 L89.6 58.5 L89.5 56.9 L90.1 55.6 L91.4 54.9 L91.7 53.2 L92.6 51.9 L94.4 51.4 L95.1 50.6 L95.4 49.3 L95.8 48.1 L96.9 47.0 L97.7 45.8 L97.1 44.2 L98.6 43.2 L99.0 41.9 L99.1 40.6 L99.4 39.2 L99.5 37.8 L100.1 36.3 L102.0 35.5 L101.8 33.6 L103.1 32.5 L102.8 30.9 L104.0 29.7 L104.0 28.2 L104.0 26.7 L104.2 25.3 L105.3 24.1 L104.8 22.4 L105.4 21.0 L106.3 19.7 L107.1 18.4 L107.2 16.8 L107.2 15.1 L108.6 13.8 L108.1 11.8 L108.6 10.5 L109.9 9.4 L111.0 10.7 L112.7 9.1 L114.3 10.7 L115.7 12.4 L116.0 13.7 L117.0 14.6 L117.2 15.9 L117.0 17.4 L117.3 18.6 L118.2 19.7 L119.0 21.2 L119.9 22.6 L121.4 23.4 L121.7 22.5 L122.6 21.4 L124.5 22.0 L125.4 21.2 L125.4 22.6 L127.1 23.6 L126.8 25.4 L128.0 25.9 L128.8 26.7 L130.1 27.5 L130.3 29.2 L132.2 29.5 L132.5 31.0 L133.1 32.5 L133.7 34.0 L134.7 35.2 L135.4 36.3 L136.0 37.6 L136.5 38.9 L137.8 39.7 L138.1 41.1 L138.3 42.6 L138.9 44.0 L140.0 45.2 L140.1 46.7 L140.5 48.2 L141.4 49.5 L141.8 50.9 L142.7 52.2 L142.9 53.8 L143.4 55.2 L144.6 56.4 L144.3 58.0 L144.4 59.5 L145.0 60.8 L145.7 62.1 L146.6 63.4 L146.6 65.0 L147.2 66.4 L147.8 67.8 L147.8 69.4 L149.3 70.6 L149.0 72.5 L150.5 73.7 L150.3 75.5 L151.0 77.0 L151.9 78.3 L151.7 79.9 L152.5 81.3 L152.8 82.8 L152.9 84.5 L154.3 85.7 L155.2 87.2 L155.3 88.9 L155.2 90.6 L156.3 92.0 L156.8 93.6 L156.3 95.5 L157.1 97.0 L157.7 98.2 L157.5 99.7 L158.6 100.9 L158.5 102.4 L159.5 103.5 L159.6 105.0 L159.4 106.6 L159.6 108.1 L160.0 109.6 L161.0 111.0 L161.1 112.5 L161.7 113.9 L162.4 115.2 L162.3 116.7 L162.3 118.1 L162.7 119.5 L163.3 120.8 L163.4 122.2 L164.8 123.4 L165.5 124.8 L165.7 126.5 L166.4 127.9 L167.0 129.4 L167.3 131.0 L167.6 132.4 L168.3 133.6 L169.1 134.8 L168.9 136.3 L169.3 137.7 L170.5 138.7 L171.5 139.8 L172.3 141.1 L171.9 143.1 L173.6 144.0 L173.4 145.8 L174.3 147.2 L175.3 148.5 L175.3 150.1 L176.7 151.3 L176.9 152.7 L176.7 154.3 L177.7 155.6 L176.9 157.2 L178.0 158.5 L178.5 159.9 L179.1 161.2 L178.8 162.9 L179.5 164.3 L179.8 165.8 L180.2 167.2 L180.5 168.7 L180.8 170.3 L181.8 171.4 L183.1 172.3 L183.4 173.7 L184.4 174.7 L185.5 175.7 L186.1 177.2 L186.9 178.6 L188.4 179.3 L189.3 180.6 L190.2 181.9 L190.7 183.3 L191.8 184.4 L192.7 185.6 L193.8 186.1 L195.1 185.9 L195.9 187.1 L197.0 188.1 L198.9 188.0 L199.3 190.1 L200.8 191.2 L202.4 191.6 L203.1 193.0 L204.1 194.2 L205.7 194.0 L207.0 192.8 L208.4 192.9 L209.8 193.1 L211.3 193.4 L213.0 194.1 L214.5 193.0 L216.0 192.6" stroke="#f024dc"/>
</g>
<rect x="27.1" y="3.9" width="189.4" height="219.2" fill="none" stroke="#1c1c1c" stroke-width="1.35"/>
<line x1="23.8" y1="217.1" x2="27" y2="217.1" stroke="#333" stroke-width="1.1"/>
<text transform="translate(21.4 220.9) scale(0.65 1)" text-anchor="end" class="ly">0.0</text>
<line x1="23.8" y1="168.3" x2="27" y2="168.3" stroke="#333" stroke-width="1.1"/>
<text transform="translate(21.4 172.1) scale(0.65 1)" text-anchor="end" class="ly">0.1</text>
<line x1="23.8" y1="119.7" x2="27" y2="119.7" stroke="#333" stroke-width="1.1"/>
<text transform="translate(21.4 123.5) scale(0.65 1)" text-anchor="end" class="ly">0.2</text>
<line x1="23.8" y1="71.4" x2="27" y2="71.4" stroke="#333" stroke-width="1.1"/>
<text transform="translate(21.4 75.2) scale(0.65 1)" text-anchor="end" class="ly">0.3</text>
<line x1="23.8" y1="22.9" x2="27" y2="22.9" stroke="#333" stroke-width="1.1"/>
<text transform="translate(21.4 26.7) scale(0.65 1)" text-anchor="end" class="ly">0.4</text>
<line x1="41.6" y1="224" x2="41.6" y2="226.6" stroke="#333" stroke-width="1"/>
<text transform="translate(41.6 236.3) scale(1.36 1)" text-anchor="middle" class="lx">0.0</text>
<line x1="78.0" y1="224" x2="78.0" y2="226.6" stroke="#333" stroke-width="1"/>
<text transform="translate(78.0 236.3) scale(1.36 1)" text-anchor="middle" class="lx">3.0</text>
<line x1="114.4" y1="224" x2="114.4" y2="226.6" stroke="#333" stroke-width="1"/>
<text transform="translate(114.4 236.3) scale(1.36 1)" text-anchor="middle" class="lx">6.0</text>
<line x1="150.9" y1="224" x2="150.9" y2="226.6" stroke="#333" stroke-width="1"/>
<text transform="translate(150.9 236.3) scale(1.36 1)" text-anchor="middle" class="lx">9.0</text>
<line x1="187.3" y1="224" x2="187.3" y2="226.6" stroke="#333" stroke-width="1"/>
<text transform="translate(187.3 236.3) scale(1.36 1)" text-anchor="middle" class="lx">12.0</text>
<text x="127.4" y="252.5" text-anchor="middle" class="lu">µm</text>
<text x="0.7" y="102.1" class="li">I</text>
<line x1="216.3" y1="4.2" x2="337.3" y2="26.5" stroke="#b2b2b2" stroke-width="1.25"/>
<line x1="216.3" y1="223" x2="337.3" y2="198.9" stroke="#b2b2b2" stroke-width="1.25"/>
</svg>
</body></html>
